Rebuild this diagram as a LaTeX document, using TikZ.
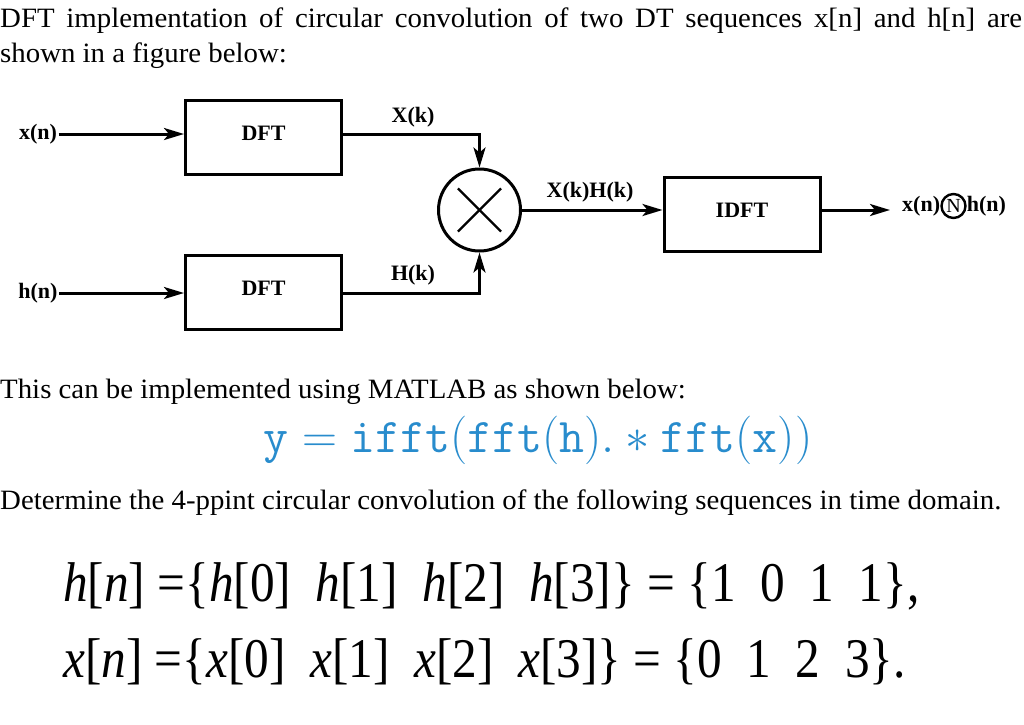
\RequirePackage{fix-cm}
\documentclass[tikz,border=0pt]{standalone}
\usepackage[no-math]{fontspec}
\setmainfont{Liberation Serif}
\newfontfamily\bodyfont[FakeStretch=1.03]{Liberation Serif}
\newfontfamily\seqfont[FakeStretch=0.88]{Liberation Serif}
\usetikzlibrary{arrows.meta,positioning}
\definecolor{matlabblue}{RGB}{40,140,205}

\begin{document}
\begin{tikzpicture}[x=1pt,y=-1pt,
    block/.style={draw,line width=3pt,minimum width=156pt,minimum height=74pt,
      text height=14.6pt,text depth=8pt,font=\fontsize{22}{26}\selectfont\bfseries},
    sig/.style={font=\fontsize{22}{26}\selectfont\bfseries,inner sep=1.5pt},
    outsig/.style={font=\fontsize{22}{26}\selectfont\bfseries,inner sep=0pt},
    line/.style={line width=3pt},
    arr/.style={line,-{Stealth[length=20pt,width=12pt,inset=5pt]}},
    para/.style={anchor=base west,inner sep=0pt,font=\bodyfont\fontsize{28}{32}\selectfont},
    seq/.style={anchor=base west,inner sep=0pt,font=\seqfont\fontsize{56}{60}\selectfont}]
  \fill[white] (0,0) rectangle (1024,724);
  \useasboundingbox (0,0) rectangle (1024,724);
  % text above the figure
  \node[para] (intro1) at (0,27)
    {\makebox[1022pt][s]{DFT implementation of circular convolution of two DT sequences x[n] and h[n] are}};
  \node[para] (intro2) at (0,62) {shown in a figure below:};
  % blocks
  \node[block] (dft1) at (263.5,137.5) {DFT};
  \node[block] (dft2) at (263.5,292.5) {DFT};
  \node[draw,circle,line,minimum size=82pt,inner sep=0pt] (mult) at (479.5,210) {};
  \draw[line width=2.2pt,shorten <=12pt,shorten >=12pt] (mult.north west) -- (mult.south east);
  \draw[line width=2.2pt,shorten <=12pt,shorten >=12pt] (mult.north east) -- (mult.south west);
  \node[block] (idft) at (742,214.5) {IDFT};
  % signals
  \node[sig] (xin) at (38,134) {x(n)};
  \node[sig] (hin) at (38,293) {h(n)};
  \node[sig] (xk) at (413,117) {X(k)};
  \node[sig] (hk) at (413,275) {H(k)};
  \node[sig] (xkhk) at (590,192) {X(k)H(k)};
  \coordinate (out) at (890,210);
  \node[outsig,anchor=west] (xout) at (902,206) {x(n)};
  \node[draw,circle,line width=2.4pt,inner sep=0pt,minimum size=24pt,
    font=\fontsize{20}{24}\selectfont,right=0pt of xout] (circN) {N};
  \node[outsig,right=0pt of circN] (hout) {h(n)};
  % connectors
  \draw[arr] (xin) -- (xin -| dft1.west);
  \draw[arr] (hin) -- (hin -| dft2.west);
  \draw[arr] (dft1.east |- xin) -| (mult.north);
  \draw[arr] (dft2.east |- hin) -| (mult.south);
  \draw[arr] (mult.east) -- (mult.east -| idft.west);
  \draw[arr] (idft.east |- mult.east) -- (out);
  % text below the figure
  \node[para] (matlab) at (0,398) {This can be implemented using MATLAB as shown below:};
  \node[anchor=base,inner sep=0pt,text=matlabblue,font=\fontsize{48.5}{54}\selectfont] (code) at (538,452)
    {$\texttt{y} = \texttt{ifft}(\texttt{fft}(\texttt{h}).*\texttt{fft}(\texttt{x}))$};
  \node[para] (task) at (0,509)
    {Determine the 4-ppint circular convolution of the following sequences in time domain.};
  \node[seq] (hseq) at (63,601)
    {\textit{h}[\textit{n}] =\{\textit{h}[0]\ \ \textit{h}[1]\ \ \textit{h}[2]\ \ \textit{h}[3]\} = \{1\ \ 0\ \ 1\ \ 1\},};
  \node[seq] (xseq) at (63,677)
    {\textit{x}[\textit{n}] =\{\textit{x}[0]\ \ \textit{x}[1]\ \ \textit{x}[2]\ \ \textit{x}[3]\} = \{0\ \ 1\ \ 2\ \ 3\}.};
\end{tikzpicture}
\end{document}
